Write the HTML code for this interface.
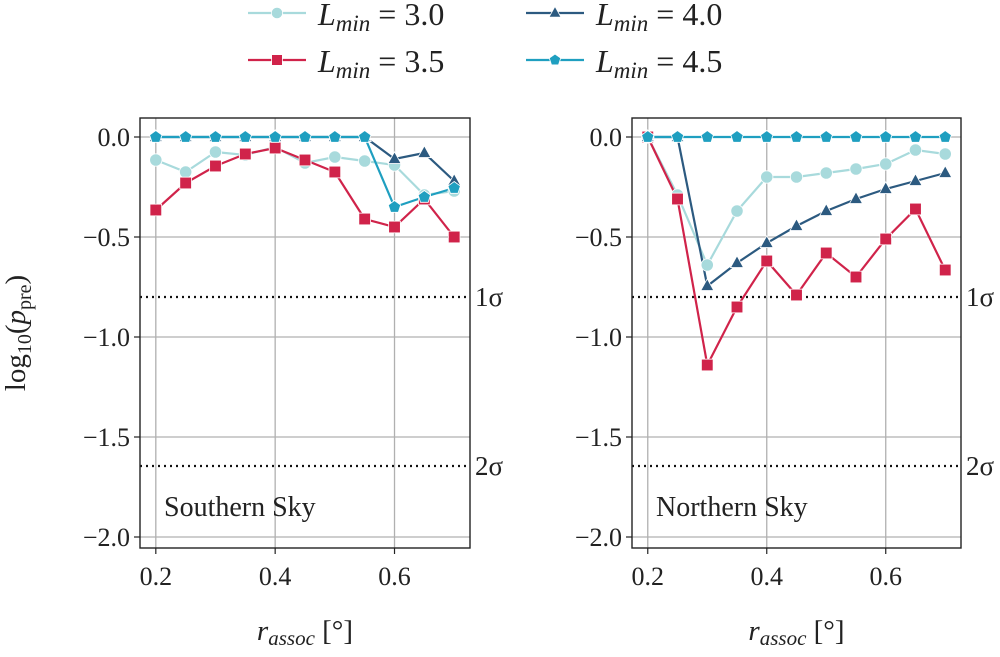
<!DOCTYPE html>
<html><head><meta charset="utf-8"><style>
body{margin:0;background:#fff;width:1000px;height:652px;overflow:hidden}
text{font-family:"Liberation Serif","DejaVu Serif",serif;fill:#222}
</style></head><body>
<svg id="c" width="1000" height="652" viewBox="0 0 1000 652"></svg>
<script>
const xVals=[0.2,0.25,0.3,0.35,0.4,0.45,0.5,0.55,0.6,0.65,0.7];
const seriesLabels=["3.0","3.5","4.0","4.5"];
const southL30=[-0.115,-0.175,-0.075,-0.09,-0.05,-0.13,-0.10,-0.12,-0.14,-0.29,-0.27];
const southL35=[-0.365,-0.23,-0.145,-0.085,-0.055,-0.115,-0.175,-0.41,-0.45,-0.31,-0.50];
const southL40=[0,0,0,0,0,0,0,0,-0.11,-0.08,-0.22];
const southL45=[0,0,0,0,0,0,0,0,-0.35,-0.30,-0.255];
const northL30=[0,-0.29,-0.64,-0.37,-0.20,-0.20,-0.18,-0.16,-0.135,-0.065,-0.085];
const northL35=[0,-0.31,-1.14,-0.85,-0.62,-0.79,-0.58,-0.70,-0.51,-0.36,-0.665];
const northL40=[0,0,-0.745,-0.63,-0.53,-0.445,-0.37,-0.31,-0.26,-0.22,-0.18];
const northL45=[0,0,0,0,0,0,0,0,0,0,0];
const xTicks=[0.2,0.4,0.6];
const yTicks=[0,-0.5,-1.0,-1.5,-2.0];
const yTickLabels=["0.0","\u22120.5","\u22121.0","\u22121.5","\u22122.0"];
const sigmaLevels=[-0.8,-1.645];
const sigmaLabels=["1\u03c3","2\u03c3"];

const colors=["#a8dadc","#d0234a","#2c5a80","#1f9fc0"];
const markers=["circle","square","triangle","pentagon"];
const NS="http://www.w3.org/2000/svg";
const svg=document.getElementById("c");
function mk(tag,attrs,parent){const e=document.createElementNS(NS,tag);for(const k in attrs)e.setAttribute(k,attrs[k]);(parent||svg).appendChild(e);return e;}
function marker(type,cx,cy,col,g,s){
  let e;
  if(type==="circle")e=mk("circle",{cx:cx,cy:cy,r:s*0.95,fill:col,stroke:"#fff","stroke-width":0.8},g);
  else if(type==="square")e=mk("rect",{x:cx-s*0.9,y:cy-s*0.9,width:s*1.8,height:s*1.8,fill:col,stroke:"#fff","stroke-width":0.8},g);
  else if(type==="triangle")e=mk("polygon",{points:`${cx},${cy-s*1.1} ${cx+s},${cy+s*0.7} ${cx-s},${cy+s*0.7}`,fill:col,stroke:"#fff","stroke-width":0.8},g);
  else{let p=[];for(let i=0;i<5;i++){const a=-Math.PI/2+i*2*Math.PI/5;p.push((cx+s*Math.cos(a)).toFixed(1)+","+(cy+s*Math.sin(a)).toFixed(1));}
    e=mk("polygon",{points:p.join(" "),fill:col,stroke:"#fff","stroke-width":0.8},g);}
  return e;
}
function panel(name,L,R,seriesArr,title){
  const T=118,B=548,x0=0.1735,x1=0.7265,y0=0.095,y1=-2.055;
  const sx=v=>L+(v-x0)/(x1-x0)*(R-L);
  const sy=v=>T+(y0-v)/(y0-y1)*(B-T);
  const g=mk("g",{});
  
  
  xTicks.forEach(t=>{
    const l=mk("line",{x1:sx(t),x2:sx(t),y1:T,y2:B,stroke:"#b0b0b0","stroke-width":1.3},g);
    
    mk("line",{x1:sx(t),x2:sx(t),y1:B,y2:B+6,stroke:"#222","stroke-width":1.2},g);
    const tx=mk("text",{x:sx(t),y:B+37,"text-anchor":"middle","font-size":26},g);tx.textContent=t.toFixed(1);
    
  });
  yTicks.forEach((t,i)=>{
    const l=mk("line",{x1:L,x2:R,y1:sy(t),y2:sy(t),stroke:"#b0b0b0","stroke-width":1.3},g);
    
    mk("line",{x1:L-6,x2:L,y1:sy(t),y2:sy(t),stroke:"#222","stroke-width":1.2},g);
    const tx=mk("text",{x:L-10,y:sy(t)+9,"text-anchor":"end","font-size":26},g);tx.textContent=yTickLabels[i];
    
  });
  sigmaLevels.forEach((s,i)=>{
    const l=mk("line",{x1:L,x2:R,y1:sy(s),y2:sy(s),stroke:"#111","stroke-width":2.2,"stroke-dasharray":"2 4"},g);
    
    const tx=mk("text",{x:R+5,y:sy(s)+9,"font-size":27},g);tx.textContent=sigmaLabels[i];
    
  });
  seriesArr.forEach((arr,si)=>{
    const pts=arr.map((v,i)=>sx(xVals[i]).toFixed(1)+","+sy(v).toFixed(1)).join(" ");
    const pl=mk("polyline",{points:pts,fill:"none",stroke:colors[si],"stroke-width":2.2},g);
    
  });
  seriesArr.forEach((arr,si)=>{
    arr.forEach((v,i)=>{
      const m=marker(markers[si],sx(xVals[i]),sy(v),colors[si],g,6.5);
      
    });
  });
  const fr=mk("rect",{x:L,y:T,width:R-L,height:B-T,fill:"none",stroke:"#222","stroke-width":1.4},g);
  
  const tt=mk("text",{x:L+24,y:B-32,"font-size":28},g);tt.textContent=title;
  
  const xl=mk("text",{x:(L+R)/2,y:640,"text-anchor":"middle","font-size":29},g);
  xl.innerHTML='<tspan font-style="italic">r</tspan><tspan font-style="italic" font-size="21" dy="5">assoc</tspan><tspan dy="-5"> [°]</tspan>';
  
}
panel("southern",140,470,[southL30,southL35,southL40,southL45],"Southern Sky");
panel("northern",632,961,[northL30,northL35,northL40,northL45],"Northern Sky");
const yl=mk("text",{x:0,y:0,"font-size":29,"text-anchor":"middle",transform:"translate(25,333) rotate(-90)"});
yl.innerHTML='log<tspan font-size="20" dy="6">10</tspan><tspan dy="-6">(</tspan><tspan font-style="italic">p</tspan><tspan font-size="20" dy="6">pre</tspan><tspan dy="-6">)</tspan>';

// legend
const legPos=[[248,13],[248,60],[526,13],[526,60]];
seriesLabels.forEach((lab,i)=>{
  const [lx,ly]=legPos[i];
  const g=mk("g",{});
  
  
  mk("line",{x1:lx,x2:lx+58,y1:ly,y2:ly,stroke:colors[i],"stroke-width":2.2},g);
  marker(markers[i],lx+29,ly,colors[i],g,6);
  const t=mk("text",{x:lx+70,y:ly+12,"font-size":32},g);
  t.innerHTML='<tspan font-style="italic">L</tspan><tspan font-style="italic" font-size="23" dy="6">min</tspan><tspan dy="-6"> = '+lab+'</tspan>';
});
</script>
</body></html>
